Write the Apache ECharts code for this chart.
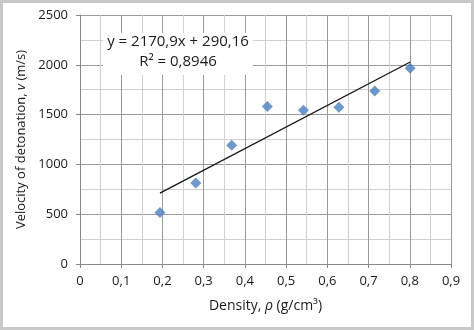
<!DOCTYPE html>
<html><head><meta charset="utf-8">
<script src="https://cdn.jsdelivr.net/npm/echarts@6/dist/echarts.min.js"></script>
<style>html,body{margin:0;padding:0;background:#fff}#c{width:474px;height:330px}</style>
</head><body><div id="c"></div>
<script>
const densities = [0.194, 0.281, 0.368, 0.4545, 0.542, 0.628, 0.715, 0.801];
const velocities = [518, 812, 1193, 1581, 1544, 1574, 1738, 1965];
const trendSlope = 2170.9;
const trendIntercept = 290.16;
const trendLabel = ['y = 2170,9x + 290,16', 'R² = 0,8946'];
const xTicks = [0, 0.1, 0.2, 0.3, 0.4, 0.5, 0.6, 0.7, 0.8, 0.9];
const yTicks = [0, 500, 1000, 1500, 2000, 2500];

const font = 'Open Sans';
const fmtX = v => String(Math.round(v * 10) / 10).replace('.', ',');
const fmtY = v => String(v);
const xMin = Math.min(...densities), xMax = Math.max(...densities);
const trend = [[xMin, trendSlope * xMin + trendIntercept], [xMax, trendSlope * xMax + trendIntercept]];

const chart = echarts.init(document.getElementById('c'), null, {renderer: 'canvas'});
chart.setOption({
  animation: false,
  backgroundColor: '#fff',
  grid: {left: 80, right: 23, top: 15, bottom: 66},
  xAxis: {
    type: 'value', min: xTicks[0], max: xTicks[xTicks.length - 1], interval: 0.1,
    name: 'Density, {i|ρ} (g/cm³)', nameLocation: 'middle', nameGap: 35,
    nameTextStyle: {fontFamily: font, fontSize: 14, color: '#1a1a1a',
      rich: {i: {fontFamily: font, fontSize: 14, fontStyle: 'italic', color: '#1a1a1a'}}},
    axisLine: {lineStyle: {color: '#888', width: 1}},
    axisTick: {show: true, length: 4, lineStyle: {color: '#888'}},
    axisLabel: {formatter: fmtX, fontFamily: font, fontSize: 13, color: '#1a1a1a', margin: 11},
    splitLine: {show: true, lineStyle: {color: '#9a9a9a', width: 1}},
    minorTick: {show: false, splitNumber: 2},
    minorSplitLine: {show: true, lineStyle: {color: '#d0d0d0', width: 1}}
  },
  yAxis: {
    type: 'value', min: yTicks[0], max: yTicks[yTicks.length - 1], interval: 500,
    name: 'Velocity of detonation, {i|v} (m/s)', nameLocation: 'middle', nameGap: 44,
    nameTextStyle: {fontFamily: font, fontSize: 13, color: '#1a1a1a',
      rich: {i: {fontFamily: font, fontSize: 13, fontStyle: 'italic', color: '#1a1a1a'}}},
    axisLine: {show: true, lineStyle: {color: '#888', width: 1}},
    axisTick: {show: true, length: 4, lineStyle: {color: '#888'}},
    axisLabel: {formatter: fmtY, fontFamily: font, fontSize: 13, color: '#1a1a1a', margin: 12},
    splitLine: {show: true, lineStyle: {color: '#9a9a9a', width: 1}},
    minorTick: {show: false, splitNumber: 2},
    minorSplitLine: {show: true, lineStyle: {color: '#d0d0d0', width: 1}}
  },
  graphic: [
    {type: 'rect', shape: {x: 1.5, y: 1.5, width: 471, height: 327}, style: {fill: 'none', stroke: '#c8c8c8', lineWidth: 3}, z: 100},
    {type: 'rect', shape: {x: 103, y: 33, width: 150, height: 42}, style: {fill: '#fff'}, z: 50},
    {type: 'text', x: 178, y: 32, style: {text: trendLabel.join('\n'), fontFamily: font, fontSize: 15, fill: '#1a1a1a', align: 'center', verticalAlign: 'top', lineHeight: 20}, z: 51}
  ],
  series: [
    {type: 'scatter', data: densities.map((d, i) => [d, velocities[i]]), symbol: 'diamond', symbolSize: [11, 11],
      itemStyle: {color: '#4a7ebb'}, z: 3},
    {type: 'line', data: trend, symbol: 'none', lineStyle: {color: '#111', width: 1.2}, z: 2}
  ]
});
</script></body></html>
